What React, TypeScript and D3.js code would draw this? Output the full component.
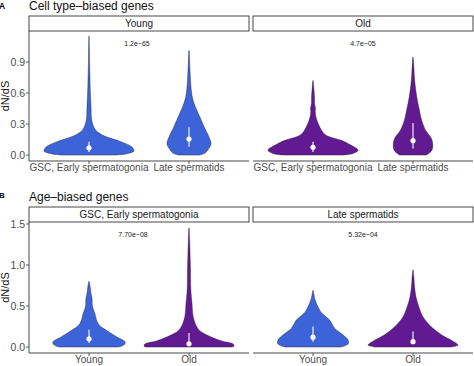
import * as d3 from "d3";

const facetsA = ["Young", "Old"];
const categoriesA = ["GSC, Early spermatogonia", "Late spermatids"];
const pValuesA = ["1.2e\u221265", "4.7e\u221205"];
const pPosA = [1.48, 1.5];
const ticksA = [0, 0.3, 0.6, 0.9];

const facetsB = ["GSC, Early spermatogonia", "Late spermatids"];
const categoriesB = ["Young", "Old"];
const pValuesB = ["7.70e\u221208", "5.32e\u221204"];
const pPosB = [1.44, 1.5];
const ticksB = [0, 0.5, 1.0, 1.5];

// violin outlines: [dN/dS, relative half width]
const aYoungGsc = [[0, 0.6], [0.016, 0.87], [0.04, 1.0], [0.08, 0.95], [0.13, 0.71], [0.18, 0.37], [0.22, 0.2], [0.26, 0.12], [0.34, 0.06], [0.47, 0.045], [0.6, 0.03], [0.73, 0.022], [0.9, 0.012], [1.05, 0.008], [1.15, 0.004]];
const aYoungLate = [[0, 0.22], [0.02, 0.36], [0.07, 0.45], [0.11, 0.49], [0.18, 0.44], [0.27, 0.34], [0.37, 0.24], [0.48, 0.13], [0.55, 0.08], [0.63, 0.05], [0.82, 0.022], [1.01, 0.005]];
const aOldGsc = [[0, 0.65], [0.016, 0.89], [0.048, 1.0], [0.097, 0.84], [0.145, 0.61], [0.18, 0.35], [0.21, 0.24], [0.29, 0.13], [0.36, 0.07], [0.42, 0.05], [0.45, 0.055], [0.5, 0.035], [0.56, 0.033], [0.64, 0.02], [0.72, 0.005]];
const aOldLate = [[0, 0.3], [0.01, 0.33], [0.048, 0.42], [0.097, 0.44], [0.16, 0.41], [0.24, 0.28], [0.34, 0.19], [0.44, 0.14], [0.56, 0.085], [0.73, 0.035], [0.85, 0.02], [0.945, 0.005]];
const bGscYoung = [[0, 0.65], [0.012, 0.73], [0.04, 0.8], [0.065, 0.8], [0.126, 0.61], [0.21, 0.37], [0.26, 0.24], [0.31, 0.18], [0.41, 0.13], [0.47, 0.09], [0.53, 0.07], [0.59, 0.07], [0.65, 0.045], [0.72, 0.03], [0.8, 0.005]];
const bGscOld = [[0, 0.95], [0.01, 1.0], [0.037, 0.98], [0.077, 0.71], [0.146, 0.4], [0.2, 0.24], [0.25, 0.17], [0.37, 0.093], [0.53, 0.067], [0.7, 0.04], [0.94, 0.033], [1.1, 0.025], [1.3, 0.015], [1.45, 0.004]];
const bLateYoung = [[0, 0.62], [0.037, 0.78], [0.085, 0.78], [0.146, 0.67], [0.23, 0.48], [0.33, 0.37], [0.4, 0.22], [0.45, 0.15], [0.57, 0.05], [0.69, 0.005]];
const bLateOld = [[0, 0.85], [0.024, 1.0], [0.077, 0.87], [0.146, 0.64], [0.25, 0.4], [0.37, 0.22], [0.49, 0.13], [0.61, 0.067], [0.74, 0.033], [0.85, 0.02], [0.94, 0.004]];

// [median, q1, q3]
const aYoungGscStat = [0.07, 0.03, 0.13];
const aYoungLateStat = [0.155, 0.08, 0.27];
const aOldGscStat = [0.075, 0.03, 0.13];
const aOldLateStat = [0.14, 0.065, 0.31];
const bGscYoungStat = [0.1, 0.05, 0.21];
const bGscOldStat = [0.04, 0.01, 0.17];
const bLateYoungStat = [0.12, 0.065, 0.25];
const bLateOldStat = [0.065, 0.04, 0.19];

const BLUE = "#3d63d8";
const PURPLE = "#621a93";
const GREY = "#4d4d4d";
const FONT = "'Liberation Sans', Arial, Helvetica, sans-serif";

type Violin = { profile: number[][]; stat: number[]; color: string };

function Facet({ x0, x1, top, bottom, strip, cats, violins, y, ticks, showY, pText, pPos, pY }: any) {
  const x = d3.scalePoint<string>().domain(cats).range([x0, x1]).padding(0.6);
  const w = d3.scaleLinear().domain([0, 1]).range([0, 0.45 * x.step()]);
  const pX = d3.scaleLinear().domain([1, 2]).range([x(cats[0])!, x(cats[1])!]);
  const stripTop = top - 15;
  return (
    <g>
      <rect x={x0} y={stripTop} width={x1 - x0} height={15} fill="white" stroke="#333" strokeWidth={0.9} />
      <text x={(x0 + x1) / 2} y={stripTop + 11.2} textAnchor="middle" fontSize={10} fill="#1a1a1a">{strip}</text>
      {violins.map((v: Violin, i: number) => {
        const cx = x(cats[i])!;
        const area = d3.area<number[]>()
          .y((d) => y(d[0]))
          .x0((d) => cx - w(d[1]))
          .x1((d) => cx + w(d[1]))
          .curve(d3.curveCatmullRom.alpha(0.5));
        return (
          <g key={i}>
            <path d={area(v.profile) || ""} fill={v.color} stroke="#1a1a1a" strokeWidth={0.4} />
            <line x1={cx} x2={cx} y1={y(v.stat[1])} y2={y(v.stat[2])} stroke="white" strokeWidth={1.1} />
            <circle cx={cx} cy={y(v.stat[0])} r={2.6} fill="white" />
          </g>
        );
      })}
      <text x={pX(pPos)} y={pY} textAnchor="middle" fontSize={7} fill="#222">{pText}</text>
      <line x1={x0} x2={x1} y1={bottom} y2={bottom} stroke="#333" strokeWidth={0.9} />
      {cats.map((c: string) => (
        <g key={c}>
          <line x1={x(c)} x2={x(c)} y1={bottom} y2={bottom + 3} stroke="#333" strokeWidth={0.8} />
          <text x={x(c)} y={bottom + 10.3} textAnchor="middle" fontSize={10} fill={GREY}>{c}</text>
        </g>
      ))}
      {showY && (
        <g>
          <line x1={x0} x2={x0} y1={top} y2={bottom} stroke="#333" strokeWidth={0.9} />
          {ticks.map((t: number) => (
            <g key={t}>
              <line x1={x0 - 3} x2={x0} y1={y(t)} y2={y(t)} stroke="#333" strokeWidth={0.8} />
              <text x={x0 - 4} y={y(t) + 3.7} textAnchor="end" fontSize={10.5} fill={GREY}>{t.toFixed(1)}</text>
            </g>
          ))}
          <text transform={`translate(9,${(top + bottom) / 2}) rotate(-90)`} textAnchor="middle" fontSize={11} fill="#111">dN/dS</text>
        </g>
      )}
    </g>
  );
}

export default function App() {
  const yA = d3.scaleLinear().domain([-0.057, 1.2]).range([161, 31]);
  const yB = d3.scaleLinear().domain([-0.0725, 1.524]).range([353, 222]);
  const facetX = [[29, 249], [253, 473]];
  const colorsA = [BLUE, PURPLE];
  const violinsA = [
    [{ profile: aYoungGsc, stat: aYoungGscStat }, { profile: aYoungLate, stat: aYoungLateStat }],
    [{ profile: aOldGsc, stat: aOldGscStat }, { profile: aOldLate, stat: aOldLateStat }],
  ].map((f, i) => f.map((v) => ({ ...v, color: colorsA[i] })));
  const violinsB = [
    [{ profile: bGscYoung, stat: bGscYoungStat }, { profile: bGscOld, stat: bGscOldStat }],
    [{ profile: bLateYoung, stat: bLateYoungStat }, { profile: bLateOld, stat: bLateOldStat }],
  ].map((f) => f.map((v, j) => ({ ...v, color: colorsA[j] })));

  return (
    <svg width={474} height={366} style={{ position: "absolute", left: 0, top: 0, fontFamily: FONT }}>
      <rect width={474} height={366} fill="white" />
      <text x={-1} y={8.5} fontSize={8.5} fontWeight="bold">A</text>
      <text x={29} y={9.5} fontSize={12} fill="#111">Cell type–biased genes</text>
      {facetsA.map((f, i) => (
        <Facet key={f} x0={facetX[i][0]} x1={facetX[i][1]} top={31} bottom={161} strip={f}
          cats={categoriesA} violins={violinsA[i]} y={yA} ticks={ticksA} showY={i === 0}
          pText={pValuesA[i]} pPos={pPosA[i]} pY={46} />
      ))}
      <text x={-1} y={198} fontSize={8} fontWeight="bold">B</text>
      <text x={29} y={201} fontSize={12} fill="#111">Age–biased genes</text>
      {facetsB.map((f, i) => (
        <Facet key={f} x0={facetX[i][0]} x1={facetX[i][1]} top={222} bottom={353} strip={f}
          cats={categoriesB} violins={violinsB[i]} y={yB} ticks={ticksB} showY={i === 0}
          pText={pValuesB[i]} pPos={pPosB[i]} pY={237} />
      ))}
    </svg>
  );
}
